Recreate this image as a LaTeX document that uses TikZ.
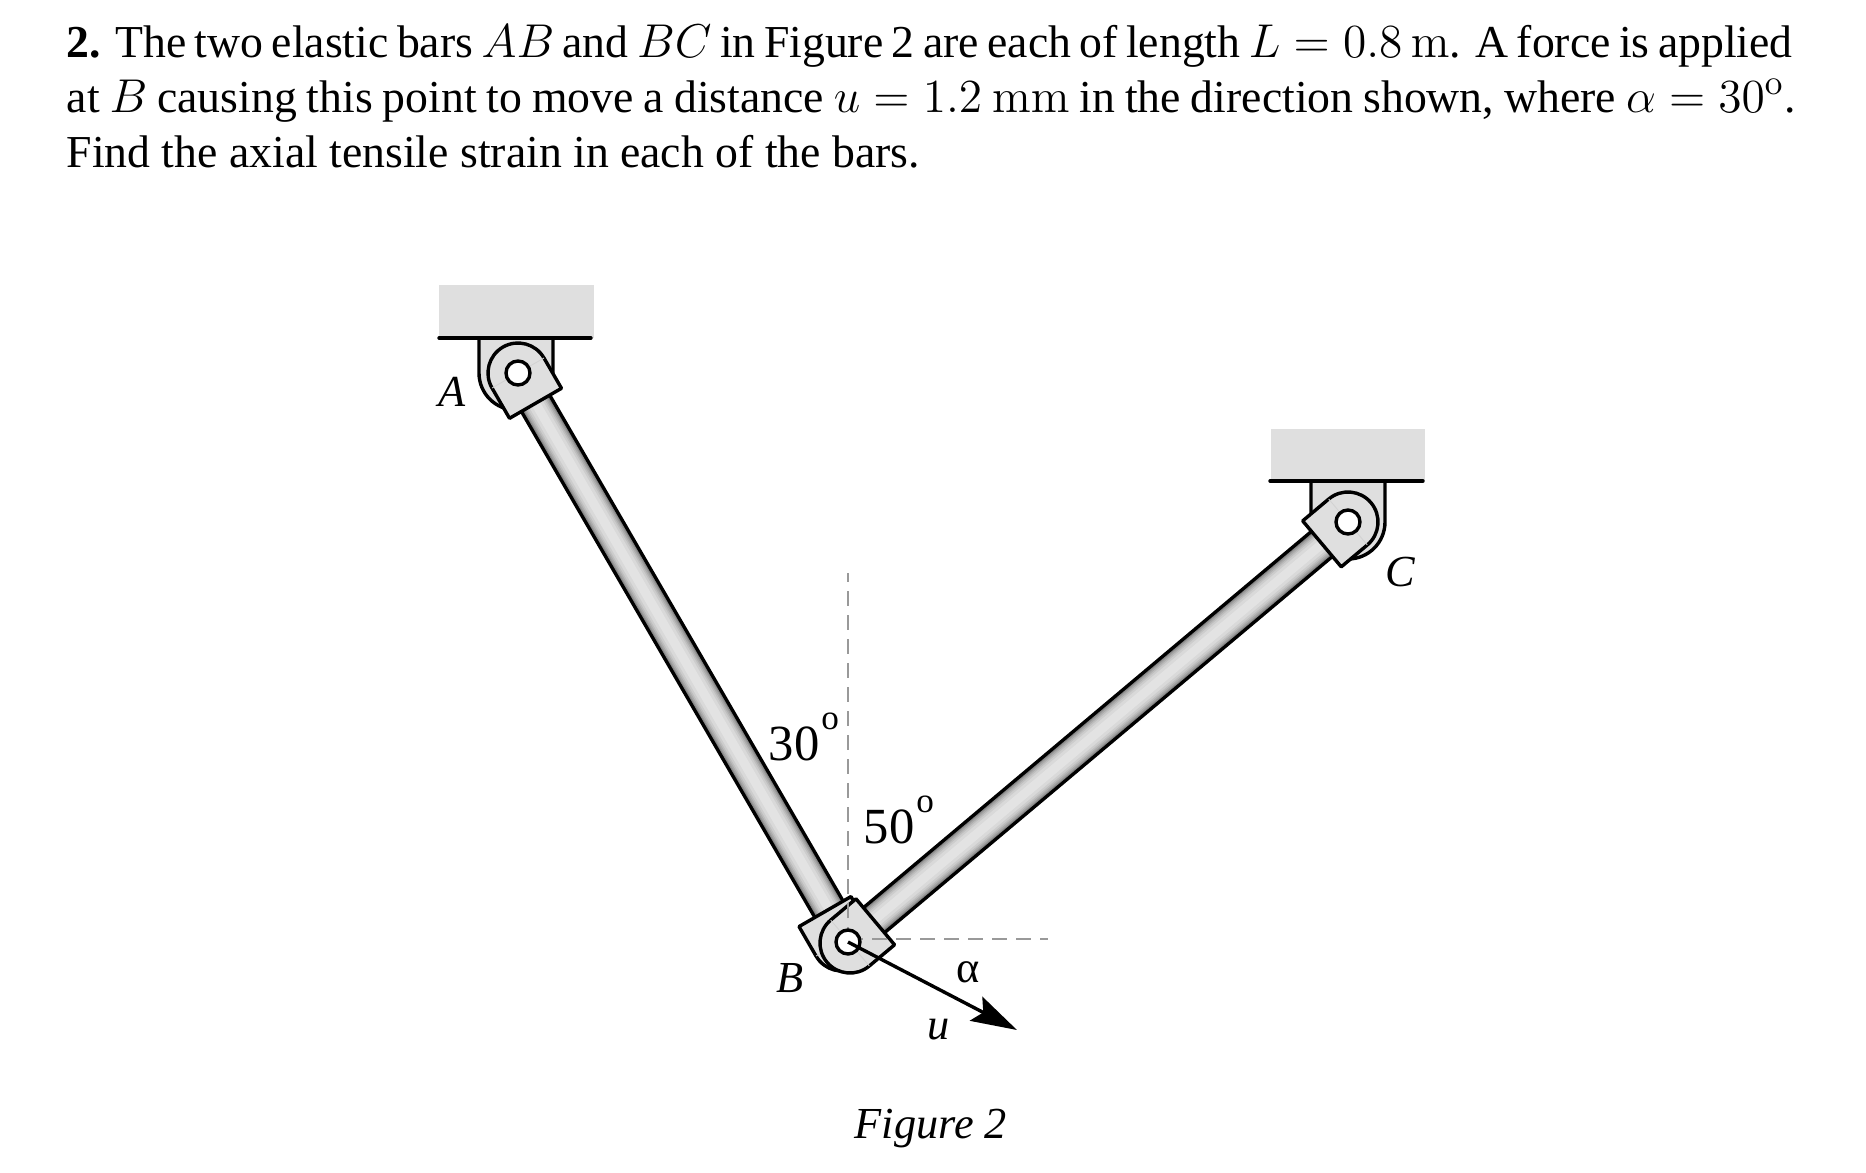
\documentclass[tikz,border=0pt]{standalone}
\usepackage{fix-cm}
\usepackage[no-math]{fontspec}
\setmainfont{Liberation Serif}
\usepackage{amsmath}
\usetikzlibrary{arrows.meta}
\DeclareMathSizes{13}{13.5}{10}{7}
\definecolor{wallgray}{HTML}{DFDFDF}
\tikzset{
  outline/.style={draw=black, line width=0.034cm, line join=round},
  partfill/.style={outline, fill=wallgray},
  helpline/.style={draw=gray!80, line width=0.012cm, dash pattern=on 0.15cm off 0.09cm},
  wallline/.style={draw=black, line width=0.034cm, line cap=round},
  label/.style={inner sep=0pt, font=\fontsize{12.6pt}{15pt}\selectfont},
  anglelabel/.style={inner sep=0pt, anchor=west, font=\fontsize{14.4pt}{15pt}\selectfont},
}
% fork on the wall, #1 pin, #2 height up to the wall
\newcommand{\forkshape}[2]{
  \begin{scope}[shift={(#1)}, x=0.01cm, y=0.01cm]
    \path[fill=wallgray] (-37,#2) -- (-37,0) arc[start angle=180, end angle=360, radius=37] -- (37,#2) -- cycle;
    \draw[outline] (-37,#2) -- (-37,0) arc[start angle=180, end angle=360, radius=37] -- (37,#2);
  \end{scope}
}
% end of a bar, #1 pin, #2 direction of the bar, #3 length of the block
\newcommand{\barhead}[3]{
  \begin{scope}[shift={(#1)}, x=0.01cm, y=0.01cm, rotate=#2]
    \draw[partfill] (#3,-30) -- (0,-30) arc[start angle=270, end angle=90, radius=30] -- (#3,30) -- cycle;
    \draw[gray!35, line width=0.008cm] (0,-30) -- (0,30);
  \end{scope}
}
% shaded bar
\newcommand{\shadedbar}[2]{
  \foreach \w/\c in {36/black, 29/gray!95, 27/gray!80, 25/gray!66, 22/gray!52, 19/gray!40, 15/gray!30, 9/gray!22}
    \draw[line width=\w*0.01cm, draw=\c] (#1) -- (#2);
}
\newcommand{\degmark}{\kern0.04em\raisebox{0.6em}{\fontsize{10pt}{10pt}\selectfont o}}
\begin{document}
\begin{tikzpicture}[x=0.01cm, y=-0.01cm]
  \useasboundingbox (0,0) rectangle (1866,1172);

  \node[anchor=north west, inner sep=0pt, align=left,
        font=\fontsize{13pt}{15.65pt}\selectfont] (problem) at (66,24)
    {\makebox[17.25cm][s]{\textbf{2.} The two elastic bars $AB$ and $BC$ in Figure 2 are each of length $L=0.8~\mathrm{m}$. A force is applied}\\
     \makebox[17.28cm][s]{at $B$ causing this point to move a distance $u=1.2~\mathrm{mm}$ in the direction shown, where $\alpha=30^{\mathrm{o}}$.}\\
     Find the axial tensile strain in each of the bars.};

  \coordinate (A) at (518,373);
  \coordinate (Afork) at (516,373);
  \coordinate (B) at (848,942);
  \coordinate (Bfront) at (850,943);
  \coordinate (Bback) at (842,941);
  \coordinate (C) at (1348,522);
  \coordinate (vtop) at (848,573);
  \coordinate (hstart) at (848,939);
  \coordinate (hend) at (1048,939);
  \coordinate (utip) at (1017,1030);

  % walls
  \fill[wallgray] (439,285) rectangle (594,338);
  \fill[wallgray] (1271,429) rectangle (1425,481);
  \forkshape{Afork}{35}
  \forkshape{C}{41}
  \draw[wallline] (439,338) -- (591,338);
  \draw[wallline] (1270,481) -- (1423,481);

  % bars
  \shadedbar{A}{B}
  \shadedbar{C}{B}

  % heads
  \barhead{A}{-60}{35}
  \barhead{C}{220}{34}
  \barhead{Bback}{120}{34}
  \barhead{Bfront}{40}{33}

  \draw[helpline] (B) -- (vtop);
  \draw[helpline] (hstart) -- (hend);

  \draw[outline, fill=white] (A) circle (12);
  \draw[outline, fill=white] (B) circle (12);
  \draw[outline, fill=white] (C) circle (12);

  \draw[line width=0.034cm, -{Stealth[length=0.46cm, width=0.27cm, inset=0.08cm]}] (B) -- (utip);

  \node[label] (lblA) at (452,392) {\textit{A}};
  \node[label] (lblB) at (790,978) {\textit{B}};
  \node[label] (lblC) at (1400,572) {\textit{C}};
  \node[label] (lblu) at (939,1030) {\textit{u}};
  \node[label] (lblalpha) at (968,972) {α};
  \node[anglelabel] (lblthirty) at (768,737) {30\degmark};
  \node[anglelabel] (lblfifty) at (863,820) {50\degmark};
  \node[label] (lblfig) at (931,1129) {\textit{Figure 2}};
\end{tikzpicture}
\end{document}
